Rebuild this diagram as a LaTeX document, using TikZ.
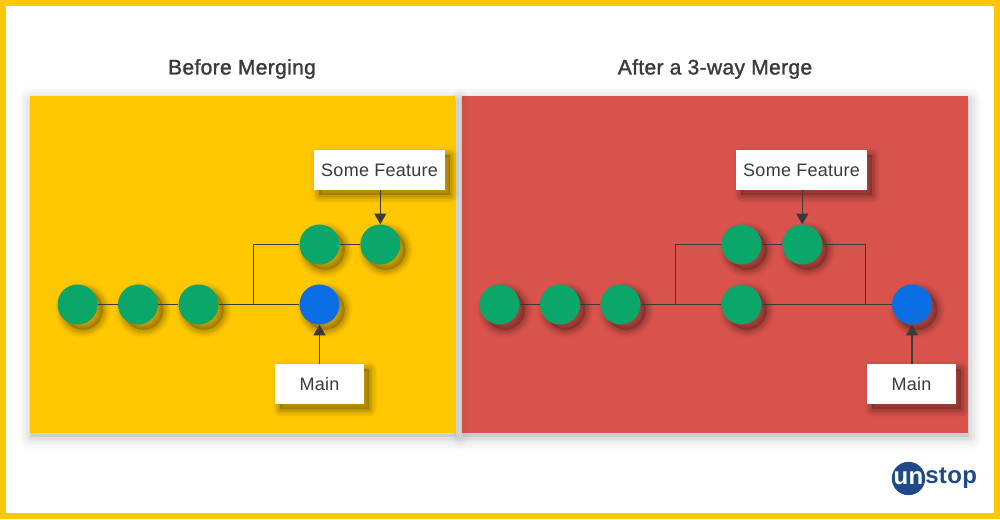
\documentclass[tikz,border=0pt]{standalone}
\usepackage{fontspec}
\setmainfont{Liberation Sans}[LetterSpace=1.5]
\newfontfamily\titlefont[FakeBold=1.3,LetterSpace=1.5]{Liberation Sans}
\usepackage{tikz}
\usetikzlibrary{arrows.meta}

\definecolor{frameyellow}{HTML}{FFC800}
\definecolor{panelred}{HTML}{D9534C}
\definecolor{commitgreen}{HTML}{0BA76A}
\definecolor{headblue}{HTML}{0A6FE3}
\definecolor{linedark}{HTML}{3A3A3A}
\definecolor{logoblue}{HTML}{1F4A87}

\tikzset{
  blurlayer/.style n args={4}{
    preaction={draw=black,line join=round,line width=#3,opacity=#4,
      transform canvas={shift={(#1,-#2)}}}},
  softshadow/.style={
    preaction={fill=black,opacity=0.18,transform canvas={shift={(#1,-#1)}}},
    blurlayer={#1}{#1}{12pt}{0.02},
    blurlayer={#1}{#1}{10pt}{0.03},
    blurlayer={#1}{#1}{8pt}{0.04},
    blurlayer={#1}{#1}{6pt}{0.05},
    blurlayer={#1}{#1}{4pt}{0.05},
    blurlayer={#1}{#1}{2pt}{0.05}},
  panelshadow/.style={
    preaction={fill=black,opacity=0.08,transform canvas={shift={(1pt,-3pt)}}},
    blurlayer={1pt}{3pt}{20pt}{0.012},
    blurlayer={1pt}{3pt}{16pt}{0.018},
    blurlayer={1pt}{3pt}{12pt}{0.025},
    blurlayer={1pt}{3pt}{8pt}{0.03},
    blurlayer={1pt}{3pt}{4pt}{0.04}},
  commit/.style={circle,fill=commitgreen,minimum size=30pt,inner sep=0pt,softshadow=4pt},
  head/.style={commit,fill=headblue},
  branchlabel/.style={rectangle,fill=white,text=linedark,font=\fontsize{13.5}{15}\selectfont,
    inner sep=0pt,minimum height=30pt,softshadow=4pt},
  title/.style={text=linedark,font=\titlefont\fontsize{15.8}{18}\selectfont},
  link/.style={draw=linedark,line width=1.1pt},
  pointer/.style={link,-{Triangle[length=8pt,width=9pt]}}
}

\begin{document}
\begin{tikzpicture}[x=0.75pt,y=-0.75pt]

% Frame
\useasboundingbox (0,0) rectangle (1000,519);
\fill[frameyellow] (0,0) rectangle (1000,519);
\fill[white] (6,6) rectangle (994,513);

% Titles
\node[title] (titleleft) at (242,69) {Before Merging};
\node[title] (titleright) at (715,69) {After a 3-way Merge};

% Panels
\fill[panelred,panelshadow] (462,96) rectangle (968,433);
\fill[frameyellow,panelshadow] (30,96) rectangle (455,433);

% Commits before merging
\node[commit] (a1) at (77.5,304.5) {};
\node[commit] (a2) at (138,304.5) {};
\node[commit] (a3) at (198.5,304.5) {};
\node[commit] (a4) at (319.5,244.5) {};
\node[commit] (a5) at (380.3,244.5) {};
\node[head] (amain) at (319.5,304.5) {};

% Commits after merge
\node[commit] (b1) at (499.5,304.5) {};
\node[commit] (b2) at (560,304.5) {};
\node[commit] (b3) at (620.5,304.5) {};
\node[commit] (b4) at (741.5,304.5) {};
\node[commit] (b5) at (741.5,244.5) {};
\node[commit] (b6) at (802.3,244.5) {};
\node[head] (bmain) at (912,304.5) {};

% Branch points
\coordinate (asplit) at (253.5,304.5);
\coordinate (bsplit) at (675.5,304.5);
\coordinate (bjoin) at (865.5,304.5);

% Edges
\draw[link] (a1) -- (a2);
\draw[link] (a2) -- (a3);
\draw[link] (a3) -- (amain);
\draw[link] (asplit) |- (a4);
\draw[link] (a4) -- (a5);

\draw[link] (b1) -- (b2);
\draw[link] (b2) -- (b3);
\draw[link] (b3) -- (b4);
\draw[link] (b4) -- (bmain);
\draw[link] (bsplit) |- (b5);
\draw[link] (b5) -- (b6);
\draw[link] (b6) -| (bjoin);

% Labels
\node[branchlabel,minimum width=98.25pt] (afeature) at (379.6,170) {Some Feature};
\node[branchlabel,minimum width=66.75pt] (amainlabel) at (319.5,384) {Main};
\node[branchlabel,minimum width=98.25pt] (bfeature) at (801.6,170) {Some Feature};
\node[branchlabel,minimum width=66.75pt] (bmainlabel) at (911.5,384) {Main};

% Pointers
\draw[pointer] (afeature.south -| a5) -- (a5);
\draw[pointer] (amainlabel) -- (amain);
\draw[pointer] (bfeature.south -| b6) -- (b6);
\draw[pointer] (bmainlabel.north -| bmain) -- (bmain);

% Logo
\node[circle,fill=logoblue,minimum size=25pt,inner sep=0pt] (logodisc) at (908.5,478.5) {};
\node[text=white,font=\fontsize{18}{20}\selectfont\bfseries,inner sep=0pt] (logoun) at (908.5,478) {un};
\node[text=logoblue,font=\fontsize{18}{20}\selectfont\bfseries,anchor=west,inner sep=0pt] (logostop) at (925,478) {stop};

\end{tikzpicture}
\end{document}
